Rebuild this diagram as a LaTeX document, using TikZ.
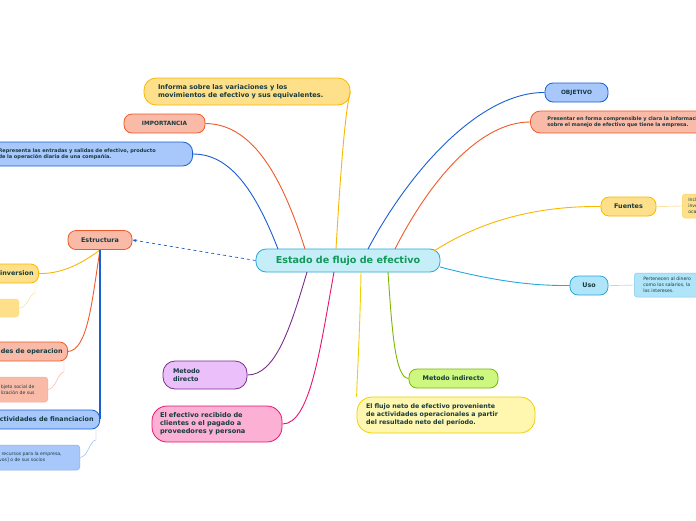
\documentclass[tikz,border=0pt]{standalone}
\usepackage{fontspec}
\setmainfont{DejaVu Sans}
\usetikzlibrary{arrows.meta}
\definecolor{cfill}{HTML}{C5EEF9}\definecolor{cdraw}{HTML}{2AA8D8}
\definecolor{yfill}{HTML}{FFE08A}\definecolor{ydraw}{HTML}{F9B800}
\definecolor{sfill}{HTML}{F9BBA8}\definecolor{sdraw}{HTML}{F05A28}
\definecolor{bfill}{HTML}{A8C8FB}\definecolor{bdraw}{HTML}{1A5FD1}
\definecolor{pfill}{HTML}{EBBFF9}\definecolor{pdraw}{HTML}{7B2D8E}
\definecolor{kfill}{HTML}{FCB1D4}\definecolor{kdraw}{HTML}{E8156F}
\definecolor{lfill}{HTML}{FFF7B0}\definecolor{ldraw}{HTML}{F0D000}
\definecolor{gfill}{HTML}{CDF77F}\definecolor{gdraw}{HTML}{7BB800}
\definecolor{ufill}{HTML}{B0E4F9}\definecolor{udraw}{HTML}{27A8E0}
\definecolor{txt}{HTML}{153A40}
\definecolor{ttl}{HTML}{13985A}
\tikzset{
 bx/.style={draw, line width=0.8pt, rounded corners=8pt, inner sep=0pt, align=left, text=txt, font=\bfseries\fontsize{6.4}{8}\selectfont},
 sm/.style={bx, rounded corners=3pt, line width=0.5pt, font=\fontsize{4.6}{6}\selectfont},
 ln/.style={line width=0.9pt},
 tn/.style={line width=0.4pt}
}
\begin{document}
\begin{tikzpicture}[x=1pt,y=-1pt]
\useasboundingbox (0,0) rectangle (696,520);
\clip (0,0) rectangle (696,520);
\fill[white] (0,0) rectangle (696,520);
% center
\node[bx, fill=cfill, draw=cdraw, minimum width=184, minimum height=23, rounded corners=10pt, text=ttl, font=\bfseries\fontsize{9.6}{11}\selectfont, align=center] (c) at (348,260.5) {Estado de flujo de efectivo};
% left/top nodes
\node[bx, fill=yfill, draw=ydraw, minimum width=206, minimum height=27, rounded corners=12pt, text width=178, font=\bfseries\fontsize{6.6}{8}\selectfont] (inf) at (247,91.5) {Informa sobre las variaciones y los\\movimientos de efectivo y sus equivalentes.};
\node[bx, fill=sfill, draw=sdraw, minimum width=81, minimum height=19, align=center, font=\bfseries\fontsize{5.8}{7}\selectfont] (imp) at (164.5,123.5) {IMPORTANCIA};
\node[bx, fill=bfill, draw=bdraw, minimum width=205, minimum height=24, rounded corners=10pt, text width=183, font=\bfseries\fontsize{5}{6.6}\selectfont, anchor=east] (rep) at (193,154) {Representa las entradas y salidas de efectivo, producto\\de la operación diaria de una compañía.};
\node[bx, fill=sfill, draw=sdraw, minimum width=64, minimum height=19, align=center] (est) at (100,240) {Estructura};
\node[bx, fill=yfill, draw=ydraw, minimum height=19, anchor=east, align=right] (inv) at (39,273.5) {Actividades de inversion\hspace{5pt}};
\node[sm, fill=yfill, draw=ydraw!50, minimum height=18, minimum width=40, anchor=east] (invs) at (19,308) {};
\node[bx, fill=sfill, draw=sdraw, minimum height=19, anchor=east, align=right] (ope) at (68,351.5) {\hspace*{10pt}Actividades de operacion\hspace{5pt}};
\node[sm, fill=sfill, draw=sdraw!50, minimum height=25, minimum width=60, anchor=east, align=left] (opes) at (48,389.5) {bjeto social de\\lización de sus\hspace{8pt}};
\node[bx, fill=bfill, draw=bdraw, minimum height=19, anchor=east, align=right] (fin) at (100,419.5) {\hspace*{10pt}Actividades de financiacion\hspace{6pt}};
\node[sm, fill=bfill, draw=bdraw!50, minimum height=25, minimum width=100, anchor=east, align=left] (fins) at (80,457.5) {s recursos para la empresa,\\ivos] o de sus socios\hspace{6pt}};
\node[bx, fill=pfill, draw=pdraw, minimum width=84, minimum height=28, rounded corners=12pt, text width=64] (md) at (205,375) {Metodo\\directo};
\node[bx, fill=kfill, draw=kdraw, minimum width=130, minimum height=36, rounded corners=15pt, text width=114, font=\bfseries\fontsize{6.6}{8}\selectfont] (ef) at (217,424) {El efectivo recibido de\\clientes o el pagado a\\proveedores y persona};
\node[bx, fill=lfill, draw=ldraw, minimum width=178, minimum height=36, rounded corners=15pt, text width=160, font=\bfseries\fontsize{6.3}{8}\selectfont] (fn) at (446,415) {El flujo neto de efectivo proveniente\\de actividades operacionales a partir\\del resultado neto del período.};
\node[bx, fill=gfill, draw=gdraw, minimum width=89, minimum height=19, align=center] (mi) at (453.5,378.5) {Metodo indirecto};
\node[bx, fill=ufill, draw=udraw, minimum width=38, minimum height=19, align=center] (uso) at (589,285.5) {Uso};
\node[sm, fill=ufill, draw=udraw!60, minimum width=90, minimum height=24, anchor=west, text width=80] (usos) at (634,285) {\hspace*{4pt}Pertenecen al dinero\\\hspace*{4pt}como los salarios, la\\\hspace*{4pt}los intereses.};
\node[bx, fill=yfill, draw=ydraw, minimum width=55, minimum height=19, align=center] (fue) at (628.5,206.5) {Fuentes};
\node[sm, fill=yfill, draw=ydraw!60, minimum width=40, minimum height=24, anchor=west, text width=34] (fues) at (682,206) {\hspace*{3pt}Incl\\\hspace*{3pt}inve\\\hspace*{3pt}oca};
\node[bx, fill=sfill, draw=sdraw, minimum width=220, minimum height=22, rounded corners=10pt, anchor=west, text width=210, font=\bfseries\fontsize{5}{6.6}\selectfont] (pre) at (530,122) {\hspace*{12pt}Presentar en forma comprensible y clara la información\\\hspace*{12pt}sobre el manejo de efectivo que tiene la empresa.};
\node[bx, fill=bfill, draw=bdraw, minimum width=63, minimum height=19, align=center, font=\bfseries\fontsize{5.8}{7}\selectfont] (obj) at (576.5,92.5) {OBJETIVO};
% connectors from center
\draw[ln, ydraw] (336,249) .. controls (340,180) and (345,110) .. (inf.east);
\draw[ln, sdraw] (305,249) .. controls (280,170) and (250,124) .. (imp.east);
\draw[ln, bdraw] (278,249) .. controls (255,190) and (230,154) .. (rep.east);
\draw[line width=0.7pt, bdraw, dashed, -{Stealth[length=4pt]}] (c.west) -- (est.east);
\draw[ln, pdraw] (307,272) .. controls (290,330) and (275,375) .. (md.east);
\draw[ln, kdraw] (334,272) .. controls (320,350) and (310,424) .. (ef.east);
\draw[ln, ldraw] (361,272) .. controls (360,330) and (357,380) .. (fn.north west);
\draw[ln, gdraw] (388,272) .. controls (392,330) and (395,378) .. (mi.west);
\draw[ln, udraw] (440,267) .. controls (490,280) and (530,286) .. (uso.west);
\draw[ln, ydraw] (434,251) .. controls (490,215) and (550,206) .. (fue.west);
\draw[ln, sdraw] (395,249) .. controls (430,180) and (480,122) .. (pre.west);
\draw[ln, bdraw] (368,249) .. controls (410,170) and (480,92) .. (obj.west);
% estructura children
\draw[ln, ydraw] (est.south) .. controls (80,265) and (60,274) .. (inv.east);
\draw[ln, sdraw] (est.south) .. controls (92,300) and (88,350) .. (ope.east);
\draw[line width=1.3pt, bdraw] (est.south) -- (100,419);
% thin connectors
\draw[tn, ydraw!50] (35,283) -- (35,293) .. controls (30,293) and (28,308) .. (invs.east);
\draw[tn, sdraw!50] (64,361) -- (64,372) .. controls (58,372) and (56,389) .. (opes.east);
\draw[tn, bdraw!50] (96,429) -- (96,440) .. controls (90,440) and (88,457) .. (fins.east);
\draw[tn, udraw!60] (uso.east) -- (usos.west);
\draw[tn, ydraw!60] (fue.east) -- (fues.west);
\end{tikzpicture}
\end{document}
